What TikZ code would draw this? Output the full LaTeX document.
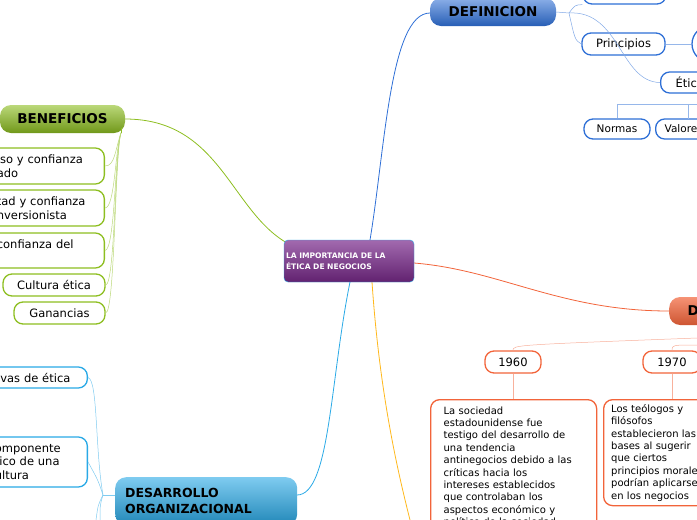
\documentclass[tikz,border=0pt]{standalone}
\usepackage{fontspec}
\setmainfont{DejaVu Sans}
\begin{document}
\begin{tikzpicture}[x=1pt,y=-1pt,
 box/.style={draw=#1,line width=1.3pt,rounded corners=9pt,fill=white,inner sep=0pt,font=\fontsize{11.5}{13.5}\selectfont},
 head/.style={rounded corners=11pt,inner sep=0pt,font=\bfseries\fontsize{13.5}{14}\selectfont},
 link/.style={draw=#1,line width=0.8pt},
 thin/.style={draw=#1,line width=0.5pt}]
\useasboundingbox (0,0) rectangle (697,520);
\clip (0,0) rectangle (697,520);
\definecolor{gr}{HTML}{8DBE20}\definecolor{bl}{HTML}{2E6FD6}\definecolor{lb}{HTML}{29A9E6}
\definecolor{orr}{HTML}{F2643A}\definecolor{pu}{HTML}{7A2A8C}\definecolor{ye}{HTML}{FFB81C}
% connector paths
\coordinate (c1) at (287,243); \coordinate (c2) at (370,240); \coordinate (c3) at (414,263);
\coordinate (c4) at (350,282); \coordinate (c5) at (372,282);
\coordinate (bot) at (410,520);
\draw[link=gr] (c1) .. controls (230,210) and (220,119) .. (125,119);
\draw[link=bl] (c2) .. controls (385,150) and (390,13) .. (430,13);
\draw[link=orr] (c3) .. controls (500,270) and (560,311) .. (669,311);
\draw[link=lb] (c4) .. controls (330,380) and (330,495) .. (297,495);
\draw[link=ye] (c5) .. controls (380,400) and (400,480) .. (bot);
% benefits
\node[head,top color=gr!60!white,bottom color=gr!80!black,minimum width=125pt,minimum height=28pt] (ben) at (62.5,119) {BENEFICIOS};
\node[box=gr,minimum width=125pt,minimum height=36pt,anchor=east,align=left,text width=90pt] (b1) at (105,166) {iso y confianza\\ado};
\node[box=gr,minimum width=125pt,minimum height=36pt,anchor=east,align=left,text width=90pt] (b2) at (105,208) {tad y confianza\\nversionista};
\node[box=gr,minimum width=125pt,minimum height=35pt,anchor=east,align=left,text width=90pt] (b3) at (105,250.5) {confianza del\\\phantom{x}};
\node[box=gr,minimum width=102pt,minimum height=22pt] (b4) at (54,285) {Cultura ética};
\node[box=gr,minimum width=91pt,minimum height=22pt] (b5) at (59.5,313) {Ganancias};
\coordinate (bj) at (121,133);
\coordinate (bk) at (115,150);
\foreach \n in {b1,b2,b3,b4,b5}{\draw[thin=gr!60] (bj) .. controls (bk) and (bk |- \n.east) .. (\n.east);}
\draw[thin=gr] (121,128) -- (bj);
% center
\node[rounded corners=4pt,draw=lb,top color=pu!70!white,bottom color=pu!80!black,text=white,minimum width=130pt,minimum height=42pt,align=left,text width=126pt,inner sep=2pt,font=\bfseries\fontsize{7.6}{11.5}\selectfont] (ctr) at (349,261) {LA IMPORTANCIA DE LA\\ÉTICA DE NEGOCIOS};
% definicion
\node[head,top color=bl!55!white,bottom color=bl!85!black,minimum width=126pt,minimum height=28pt] (def) at (493,12) {DEFINICION};
\node[box=bl,minimum width=83pt,minimum height=22pt] (dtop) at (624.5,-7) {};
\node[box=bl,minimum width=83pt,minimum height=22pt] (pri) at (623.5,44) {Principios};
\node[box=bl,circle,minimum size=36pt] (circ) at (710,44) {};
\node[box=bl,minimum width=80pt,minimum height=21pt,anchor=west,align=left,text width=70pt] (eti) at (660,82.5) {\hspace*{10pt}Ética};
\node[box=bl,minimum width=66pt,minimum height=20pt,font=\fontsize{10.5}{12}\selectfont] (nor) at (617,129) {Normas};
\node[box=bl,minimum width=70pt,minimum height=20pt,anchor=west,align=left,text width=60pt,font=\fontsize{10.5}{12}\selectfont] (val) at (655,129) {\hspace*{4pt}Valores};
\coordinate (dj) at (569,13);
\draw[thin=bl!60] (def.east) -- (dj);
\draw[thin=bl!60] (dj) .. controls (575,5) .. (dtop.south west);
\draw[thin=bl!60] (dj) .. controls (575,40) .. (pri.west);
\draw[thin=bl!60] (dj) .. controls (620,10) and (620,82) .. (eti.west);
\draw[thin=bl!50,line width=1pt] (pri.east) -- (circ.west);
\draw[thin=bl!50] (617,104) -- (697,104) (nor.north) -- (617,104) (688,104) -- (688,119);
% orange
\node[head,top color=orr!70!white,bottom color=orr!85!black,minimum width=60pt,minimum height=28pt,anchor=west,align=left,text width=55pt] (dev) at (669,311) {\hspace*{16pt}D};
\node[box=orr,minimum width=56pt,minimum height=22pt] (y60) at (513,362) {1960};
\node[box=orr,minimum width=58pt,minimum height=22pt] (y70) at (672,362) {1970};
\node[box=orr,minimum width=166pt,minimum height=135pt,anchor=north west,align=left,text width=140pt,inner sep=0pt,font=\fontsize{10}{12.4}\selectfont] (t60) at (430,399) {La sociedad\\estadounidense fue\\testigo del desarrollo de\\una tendencia\\antinegocios debido a las\\críticas hacia los\\intereses establecidos\\que controlaban los\\aspectos económico y\\político de la sociedad};
\node[box=orr,minimum width=110pt,minimum height=106pt,anchor=north west,align=left,text width=95pt,inner sep=0pt,font=\fontsize{10}{12.4}\selectfont] (t70) at (603,399) {Los teólogos y\\filósofos\\establecieron las\\bases al sugerir\\que ciertos\\principios morales\\podrían aplicarse\\en los negocios};
\draw[thin=orr!50] (y60.north) .. controls (513,345) .. (697,338);
\draw[thin=orr!50] (y70.north) .. controls (672,345) .. (697,345);
\draw[thin=orr!50] (y60.south) -- (t60.north -| y60.south);
\draw[thin=orr!50] (y70.south) -- (t70.north -| y70.south);
% desarrollo
\node[head,top color=lb!60!white,bottom color=lb!80!black,minimum width=182pt,minimum height=48pt,anchor=north west,align=left,text width=162pt,font=\bfseries\fontsize{12.5}{16}\selectfont] (des) at (115,477) {DESARROLLO\\ORGANIZACIONAL};
\node[box=lb,minimum width=120pt,minimum height=21pt,anchor=east,align=left,text width=110pt] (d1) at (88,377.5) {\hspace*{28pt}vas de ética};
\node[box=lb,minimum width=120pt,minimum height=50pt,anchor=east,align=left,text width=115pt] (d2) at (88,462) {\hspace*{25pt}omponente\\\hspace*{25pt}tico de una\\\hspace*{25pt}ultura};
\coordinate (dj2) at (103,495);
\draw[thin=lb!60] (115,495) -- (dj2);
\draw[thin=lb!60] (dj2) .. controls (95,450) and (98,380) .. (d1.east);
\draw[thin=lb!60] (dj2) .. controls (98,480) .. (d2.east);
\draw[thin=lb!60] (dj2) .. controls (98,505) .. (96,520);
\draw[thin=lb!60] (dj2) .. controls (100,505) .. (100,520);
\end{tikzpicture}
\end{document}
